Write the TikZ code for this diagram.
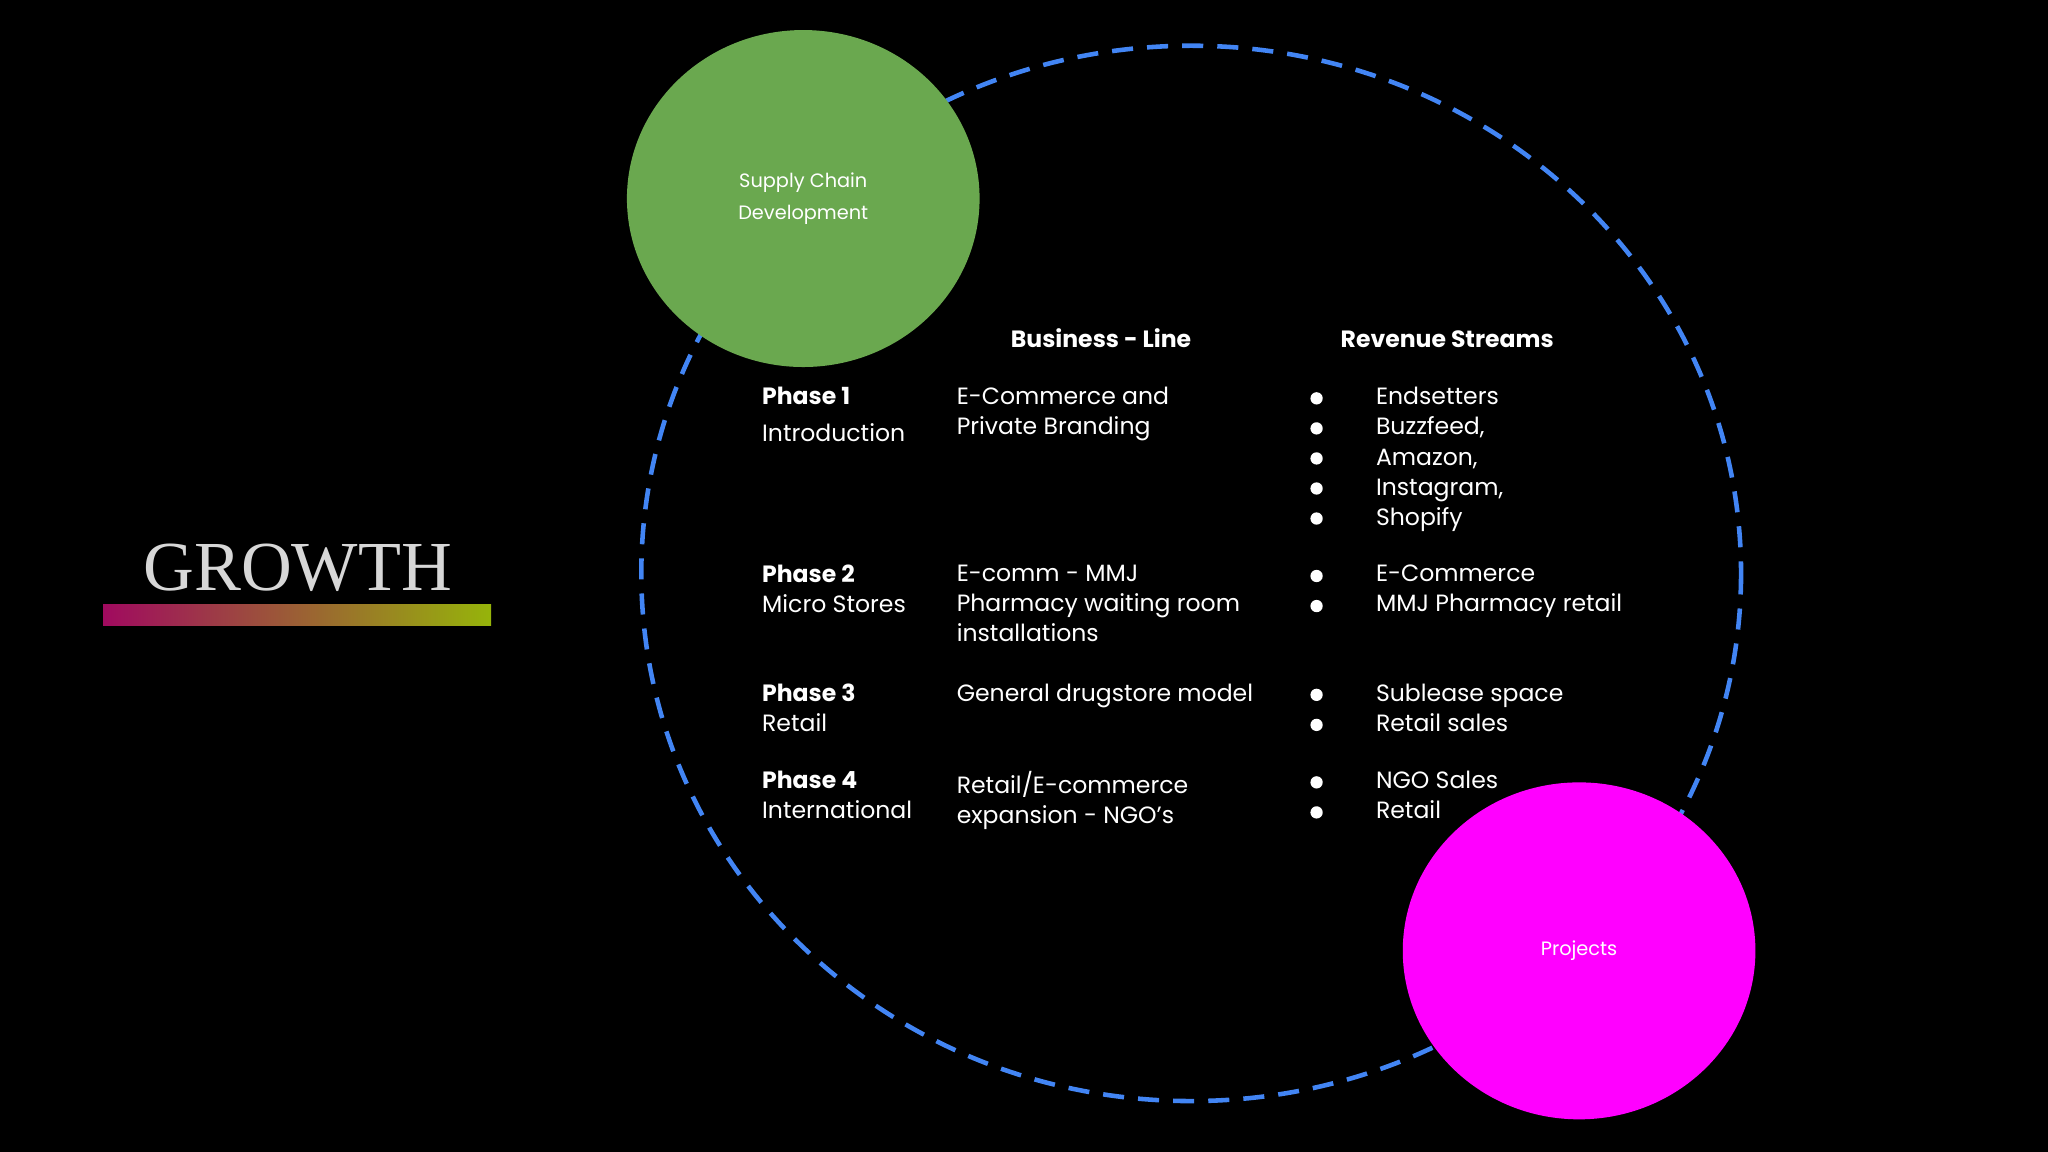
\documentclass[tikz,border=0pt]{standalone}
\usepackage{fontspec}
\usetikzlibrary{shapes.geometric}
\setmainfont{Poppins}
\newfontfamily\titlefont{Liberation Serif}
\begin{document}
\begin{tikzpicture}[x=0.013061cm, y=-0.013061cm,
  every node/.style = {inner sep=0pt, text=white, font=\fontsize{6.7}{8.6}\selectfont},
  item/.style = {anchor=north west, align=left},
  head/.style = {anchor=base, font=\fontsize{6.7}{8.6}\selectfont\bfseries},
  bullet/.style = {circle, fill=white, minimum size=3.5pt}]
  \fill[black] (0,0) rectangle (1568,882);
  \useasboundingbox (0,0) rectangle (1568,882);

  \draw[color={rgb,255:red,66;green,133;blue,244}, line width=1.3pt, dash pattern=on 6pt off 4pt]
    (912,439) ellipse [x radius=421, y radius=404];
  \node[ellipse, fill={rgb,255:red,106;green,168;blue,79}, minimum width=270*0.013061cm,
    minimum height=258*0.013061cm, align=center,
    font=\fontsize{5.5}{9}\selectfont] (SCD) at (615,152) {Supply Chain\\Development};
  \node[ellipse, fill={rgb,255:red,255;green,0;blue,255}, minimum width=270*0.013061cm,
    minimum height=258*0.013061cm,
    font=\fontsize{5.5}{9}\selectfont] (prj) at (1209,728) {Projects};

  \node[font=\titlefont\fontsize{20}{20}\selectfont, text={rgb,255:red,215;green,215;blue,215}] (growth) at (228,435) {GROWTH};
  \shade[left color={rgb,255:red,160;green,10;blue,95}, right color={rgb,255:red,150;green,180;blue,10}]
    (79,463) rectangle (376,479);

  \node[head] (bl) at (843,266) {Business - Line};
  \node[head] (rs) at (1108,266) {Revenue Streams};

  \node[item, font=\fontsize{6.7}{8.6}\selectfont\bfseries] (p1) at (583,296) {Phase 1};
  \node[item] (p1s) at (583,324) {Introduction};
  \node[item] (b1) at (732,296) {E-Commerce and\\Private Branding};
  \node[item] (r1) at (1053,296) {Endsetters\\Buzzfeed,\\Amazon,\\Instagram,\\Shopify};

  \node[item] (p2) at (583,432) {\textbf{Phase 2}\\Micro Stores};
  \node[item] (b2) at (732,432) {E-comm - MMJ\\Pharmacy waiting room\\installations};
  \node[item] (r2) at (1053,432) {E-Commerce\\MMJ Pharmacy retail};

  \node[item] (p3) at (583,523) {\textbf{Phase 3}\\Retail};
  \node[item] (b3) at (732,523) {General drugstore model};
  \node[item] (r3) at (1053,523) {Sublease space\\Retail sales};

  \node[item] (p4) at (583,590) {\textbf{Phase 4}\\International};
  \node[item] (b4) at (732,590) {Retail/E-commerce\\expansion - NGO’s};
  \node[item] (r4) at (1053,590) {NGO Sales\\Retail};

  \foreach \y in {305,328,351,374,397,441,464,532,555,599,622}
    \node[bullet] at (1008,\y) {};
\end{tikzpicture}
\end{document}
